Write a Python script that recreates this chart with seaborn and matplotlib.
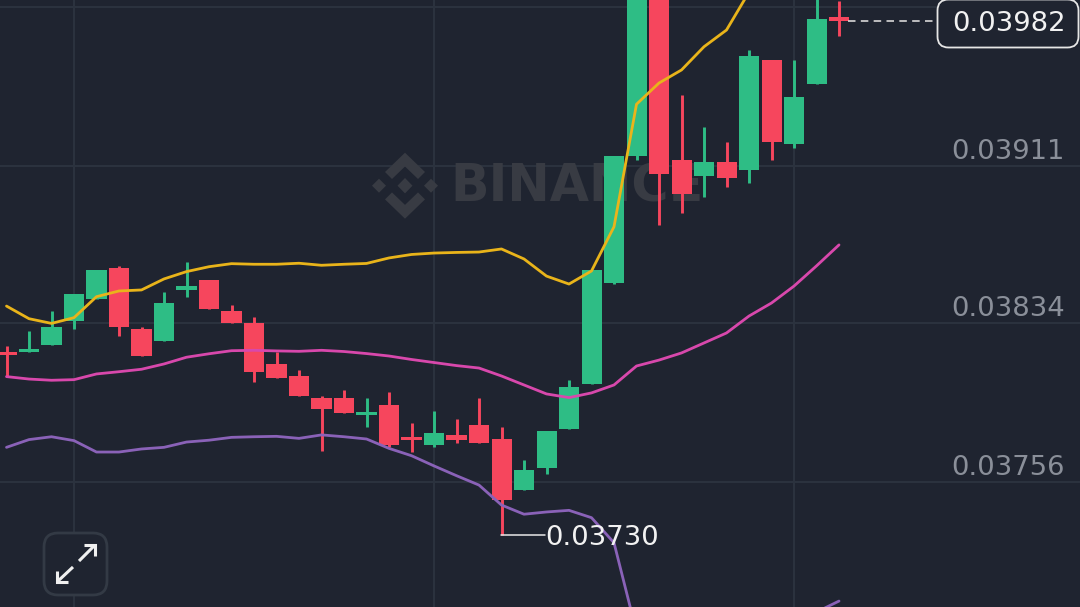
import numpy as np
import pandas as pd
import seaborn as sns
import matplotlib
matplotlib.use('Agg')
import matplotlib.pyplot as plt
from matplotlib.patches import FancyBboxPatch, Polygon
from matplotlib.transforms import Affine2D

# candles
opens = [0.038198, 0.038200, 0.038230, 0.038350, 0.038459, 0.038610, 0.038310, 0.038250, 0.038500, 0.038549,
         0.038399, 0.038340, 0.038139, 0.038080, 0.037971, 0.037971, 0.037890, 0.037939, 0.037779, 0.037740,
         0.037789, 0.037840, 0.037769, 0.037521, 0.037630, 0.037820, 0.038041, 0.038536, 0.039160, 0.039973,
         0.039139, 0.039061, 0.039130, 0.039090, 0.039628, 0.039219, 0.039511, 0.039839]
closes = [0.038185, 0.038212, 0.038319, 0.038481, 0.038600, 0.038320, 0.038179, 0.038440, 0.038520, 0.038410,
          0.038340, 0.038100, 0.038070, 0.037980, 0.037920, 0.037900, 0.037903, 0.037740, 0.037765, 0.037799,
          0.037766, 0.037750, 0.037470, 0.037617, 0.037809, 0.038027, 0.038600, 0.039159, 0.040022, 0.039071,
          0.038971, 0.039130, 0.039050, 0.039650, 0.039229, 0.039448, 0.039830, 0.039820]
highs = [0.038227, 0.038301, 0.038399, 0.038481, 0.038600, 0.038620, 0.038319, 0.038490, 0.038638, 0.038549,
         0.038428, 0.038368, 0.038199, 0.038109, 0.037980, 0.038011, 0.037971, 0.038000, 0.037849, 0.037910,
         0.037868, 0.037971, 0.037828, 0.037668, 0.037809, 0.038060, 0.038600, 0.039159, 0.040022, 0.039973,
         0.039458, 0.039300, 0.039229, 0.039679, 0.039628, 0.039628, 0.039949, 0.039919]
lows = [0.038075, 0.038200, 0.038230, 0.038309, 0.038459, 0.038278, 0.038179, 0.038250, 0.038469, 0.038410,
        0.038340, 0.038049, 0.038070, 0.037980, 0.037711, 0.037900, 0.037831, 0.037730, 0.037709, 0.037730,
        0.037750, 0.037750, 0.037300, 0.037521, 0.037601, 0.037820, 0.038041, 0.038531, 0.039139, 0.038819,
        0.038881, 0.038959, 0.039008, 0.039028, 0.039139, 0.039200, 0.039511, 0.039749]

# bollinger bands
upper = [0.038423, 0.038361, 0.038338, 0.038366, 0.038469, 0.038497, 0.038502, 0.038556, 0.038592, 0.038616,
         0.038631, 0.038628, 0.038628, 0.038633, 0.038623, 0.038628, 0.038632, 0.038659, 0.038676, 0.038683,
         0.038686, 0.038688, 0.038703, 0.038654, 0.038570, 0.038531, 0.038595, 0.038812, 0.039413, 0.039517,
         0.039581, 0.039695, 0.039777, 0.039963, 0.040096, 0.040218, 0.040317, 0.040390]
middle = [0.038077, 0.038065, 0.038059, 0.038062, 0.038090, 0.038101, 0.038113, 0.038139, 0.038172, 0.038189,
          0.038204, 0.038206, 0.038203, 0.038201, 0.038206, 0.038200, 0.038190, 0.038178, 0.038161, 0.038146,
          0.038131, 0.038119, 0.038080, 0.038036, 0.037992, 0.037974, 0.037997, 0.038036, 0.038129, 0.038158,
          0.038193, 0.038242, 0.038291, 0.038374, 0.038438, 0.038521, 0.038620, 0.038723]
lower = [0.037730, 0.037768, 0.037782, 0.037763, 0.037707, 0.037707, 0.037722, 0.037730, 0.037756, 0.037765,
         0.037779, 0.037782, 0.037784, 0.037774, 0.037791, 0.037782, 0.037771, 0.037725, 0.037689, 0.037639,
         0.037591, 0.037545, 0.037447, 0.037402, 0.037413, 0.037421, 0.037385, 0.037262, 0.036824, 0.036687,
         0.036638, 0.036613, 0.036599, 0.036589, 0.036638, 0.036736, 0.036922, 0.036976]

grid_prices = [0.03989, 0.03911, 0.03834, 0.03756]
grid_labels = ['0.03989', '0.03911', '0.03834', '0.03756']
grid_candles = [3, 19, 35]
last_price = 0.03982
low_price = 0.03730

bg = '#1f2430'
grid_col = '#2b323e'
green = '#2ebd85'
red = '#f6465d'

sns.set_style('dark')
plt.rcParams['font.family'] = ['DejaVu Sans']

fig = plt.figure(figsize=(10.8, 6.07), dpi=100, facecolor=bg)
ax = fig.add_axes([0, 0, 1, 1], facecolor=bg)
ax.set_xlim(-0.2889, 47.711)
ax.set_ylim(0.0369469, 0.0399242)
ax.set_xticks(grid_candles)
ax.set_yticks(grid_prices)
ax.set_xticklabels([])
ax.set_yticklabels([])
ax.tick_params(length=0)
ax.grid(True, color=grid_col, lw=1.5, zorder=0)
ax.set_axisbelow(True)
for s in ax.spines.values():
    s.set_visible(False)

# pixel coords for the decorations (y goes down)
px = Affine2D().scale(1 / 1080, -1 / 607).translate(0, 1) + fig.transFigure

# watermark
wm = '#383b43'
shapes = [
    [(405, 152.7), (425, 172), (418, 179), (405, 166.5), (392, 179), (385, 172)],
    [(405, 218.7), (425, 199.4), (418, 192.4), (405, 204.9), (392, 192.4), (385, 199.4)],
    [(405, 178), (412.5, 185.7), (405, 193.4), (397.5, 185.7)],
    [(379, 178.7), (386, 185.7), (379, 192.7), (372, 185.7)],
    [(431, 178.7), (438, 185.7), (431, 192.7), (424, 185.7)],
]
for s in shapes:
    ax.add_patch(Polygon(s, closed=True, fc=wm, ec='none', transform=px, zorder=1))
ax.text(450, 187, 'BINANCE', transform=px, color=wm, fontsize=36.5, fontweight='bold',
        ha='left', va='center', zorder=1)

# candles
df = pd.DataFrame({'i': np.arange(len(opens)), 'open': opens, 'high': highs, 'low': lows, 'close': closes})
df['color'] = np.where(df['close'] >= df['open'], green, red)
ax.vlines(df['i'], df['low'], df['high'], colors=df['color'], lw=2.1, zorder=3)
ax.bar(df['i'], (df['close'] - df['open']).abs(), bottom=df[['open', 'close']].min(axis=1),
       width=0.889, color=df['color'], linewidth=0, zorder=3)

# bands
bands = pd.DataFrame({'i': df['i'], 'upper': upper, 'middle': middle, 'lower': lower})
sns.lineplot(data=bands, x='i', y='upper', color='#e9b41a', lw=2.0, ax=ax, zorder=4)
sns.lineplot(data=bands, x='i', y='middle', color='#d848ac', lw=2.0, ax=ax, zorder=4)
sns.lineplot(data=bands, x='i', y='lower', color='#8a62b8', lw=2.0, ax=ax, zorder=4)
ax.set_xlabel('')
ax.set_ylabel('')
ax.set_xlim(-0.2889, 47.711)
ax.set_ylim(0.0369469, 0.0399242)

# last price tag
ax.plot([848, 934], [21, 21], transform=px, color='#d8d8d8', lw=1.2, dashes=(4.5, 3.2), zorder=5)
ax.add_patch(FancyBboxPatch((948, 10), 120, 27, boxstyle='round,pad=10.5,rounding_size=11', fc=bg, ec='#e6e6e6',
                            lw=1.3, transform=px, zorder=6, clip_on=False))
ax.text(1009, 24, f'{last_price:.5f}', transform=px, color='#f2f2f2', fontsize=19.7, ha='center', va='center',
        zorder=7)

# price labels
for p, lab in zip(grid_prices, grid_labels):
    y_px = 607 * (0.0399242 - p) / (0.0399242 - 0.0369469)
    ax.text(1065, y_px - 14, lab, transform=px, color='#8a8f99', fontsize=19.7, ha='right', va='center', zorder=7)

# low marker
ax.plot([501, 545], [535, 535], transform=px, color='#e8e8e8', lw=1.1, zorder=5)
ax.text(545, 538, f'{low_price:.5f}', transform=px, color='#f2f2f2', fontsize=19.7, ha='left', va='center', zorder=5)

# expand button
ax.add_patch(FancyBboxPatch((58, 547), 35, 34, boxstyle='round,pad=14,rounding_size=14', fc=bg, ec='#333a45',
                            lw=2, transform=px, zorder=6))
for xs, ys in [([79, 95], [561, 545]), ([84, 95, 95], [545, 545, 556]),
               ([73, 57], [567, 582]), ([57, 57, 68], [571, 582, 582])]:
    ax.plot(xs, ys, transform=px, color='#f0f0f0', lw=2.2, zorder=7, solid_capstyle='butt', solid_joinstyle='miter')

fig.savefig('out.png', dpi=100, facecolor=bg)
